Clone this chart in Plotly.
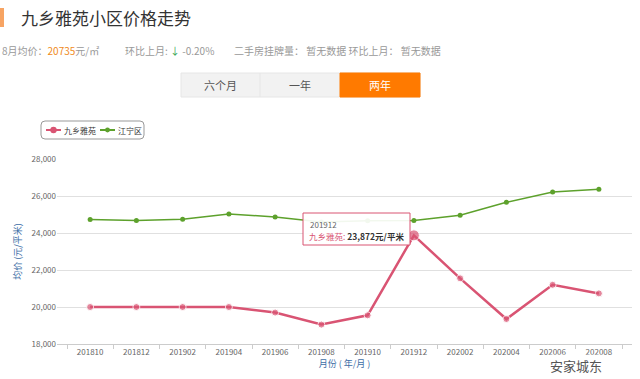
import plotly.graph_objects as go

months = ['201810', '201812', '201902', '201904', '201906', '201908',
          '201910', '201912', '202002', '202004', '202006', '202008']
jiuxiang = [20000, 20000, 20000, 20000, 19700, 19050, 19550, 23872, 21550, 19350, 21200, 20735]
jiangning = [24730, 24680, 24740, 25030, 24870, 24600, 24660, 24670, 24960, 25660, 26220, 26360]
series_names = ['九乡雅苑', '江宁区']
y_ticks = [18000, 20000, 22000, 24000, 26000, 28000]

W, H = 640, 379
L, R, T, B = 57, 8, 159, 35
PW, PH = W - L - R, H - T - B

def px(x):
    return (x - L) / PW

def py(y):
    return (H - B - y) / PH

RED = '#d95473'
GREEN = '#5da12c'
FONT = 'Noto Sans CJK SC'
colors = [RED, GREEN]

fig = go.Figure()
sizes = [7] * len(months)
sizes[months.index('201912')] = 11
fig.add_trace(go.Scatter(x=months, y=jiuxiang, name=series_names[0], mode='lines+markers',
                         line=dict(color=RED, width=2.5), marker=dict(color=RED, size=sizes)))
fig.add_trace(go.Scatter(x=months, y=jiangning, name=series_names[1], mode='lines+markers',
                         line=dict(color=GREEN, width=1.5), marker=dict(color=GREEN, size=5)))

shapes = []
annotations = []

# title bar
shapes.append(dict(type='rect', xref='paper', yref='paper', x0=px(0), x1=px(4), y0=py(27), y1=py(8),
                   fillcolor='#f7a463', line=dict(width=0)))
annotations.append(dict(xref='paper', yref='paper', x=px(19), y=py(17), xanchor='left', yanchor='middle',
                        text='九乡雅苑小区价格走势', showarrow=False,
                        font=dict(family=FONT, size=17, color='#333333')))
# info line
annotations.append(dict(xref='paper', yref='paper', x=px(0), y=py(50), xanchor='left', yanchor='middle',
                        showarrow=False,
                        text="<span style='color:#999'>8月均价：</span><span style='color:#f08a1c'>20735</span>"
                             "<span style='color:#999'>元/㎡</span>",
                        font=dict(family=FONT, size=10, color='#999999')))
annotations.append(dict(xref='paper', yref='paper', x=px(123), y=py(50), xanchor='left', yanchor='middle',
                        showarrow=False,
                        text="<span style='color:#999'>环比上月: </span><span style='color:#3aa655'>↓</span>"
                             "<span style='color:#999'> -0.20%</span>",
                        font=dict(family=FONT, size=10, color='#999999')))
annotations.append(dict(xref='paper', yref='paper', x=px(232), y=py(50), xanchor='left', yanchor='middle',
                        showarrow=False, text='二手房挂牌量： 暂无数据 环比上月： 暂无数据',
                        font=dict(family=FONT, size=10, color='#999999')))
# buttons
shapes.append(dict(type='rect', xref='paper', yref='paper', x0=px(181), x1=px(420), y0=py(97), y1=py(73),
                   fillcolor='#f2f2f2', line=dict(color='#e6e6e6', width=1)))
shapes.append(dict(type='line', xref='paper', yref='paper', x0=px(260), x1=px(260), y0=py(97), y1=py(73),
                   line=dict(color='#e6e6e6', width=1)))
shapes.append(dict(type='rect', xref='paper', yref='paper', x0=px(340), x1=px(420), y0=py(97), y1=py(73),
                   fillcolor='#ff7a00', line=dict(color='#ff7a00', width=1)))
for label, cx, col in [('六个月', 220, '#555555'), ('一年', 300, '#555555'), ('两年', 380, '#ffffff')]:
    annotations.append(dict(xref='paper', yref='paper', x=px(cx), y=py(85), xanchor='center', yanchor='middle',
                            showarrow=False, text=label, font=dict(family=FONT, size=11, color=col)))

# legend (compact, rounded box)
def rounded_rect(x0, y0, x1, y1, r):
    X = lambda v: px(v)
    Y = lambda v: py(v)
    return (f"M {X(x0 + r)} {Y(y0)} L {X(x1 - r)} {Y(y0)} Q {X(x1)} {Y(y0)} {X(x1)} {Y(y0 + r)} "
            f"L {X(x1)} {Y(y1 - r)} Q {X(x1)} {Y(y1)} {X(x1 - r)} {Y(y1)} "
            f"L {X(x0 + r)} {Y(y1)} Q {X(x0)} {Y(y1)} {X(x0)} {Y(y1 - r)} "
            f"L {X(x0)} {Y(y0 + r)} Q {X(x0)} {Y(y0)} {X(x0 + r)} {Y(y0)} Z")

shapes.append(dict(type='path', xref='paper', yref='paper', path=rounded_rect(41, 121, 144, 139, 4),
                   fillcolor='white', line=dict(color='#999999', width=1)))
leg_x = [46, 100]
for name, col, lx in zip(series_names, colors, leg_x):
    shapes.append(dict(type='line', xref='paper', yref='paper', x0=px(lx), x1=px(lx + 15), y0=py(130), y1=py(130),
                       line=dict(color=col, width=2)))
    r = 3.2 if col == RED else 2.4
    shapes.append(dict(type='circle', xref='paper', yref='paper', x0=px(lx + 7.5 - r), x1=px(lx + 7.5 + r),
                       y0=py(130 + r), y1=py(130 - r), fillcolor=col, line=dict(color=col, width=0)))
    annotations.append(dict(xref='paper', yref='paper', x=px(lx + 16), y=py(130), xanchor='left', yanchor='middle',
                            showarrow=False, text=name, font=dict(family=FONT, size=8, color='#333333')))

# tooltip
shapes.append(dict(type='rect', xref='paper', yref='paper', x0=px(303), x1=px(410), y0=py(245), y1=py(213),
                   fillcolor='rgba(255,255,255,0.92)', line=dict(color=RED, width=1)))
annotations.append(dict(xref='paper', yref='paper', x=px(308), y=py(224), xanchor='left', yanchor='middle',
                        showarrow=False, text='201912', font=dict(family=FONT, size=8, color='#666666')))
annotations.append(dict(xref='paper', yref='paper', x=px(307), y=py(236), xanchor='left', yanchor='middle',
                        showarrow=False,
                        text="<span style='color:%s'>九乡雅苑: </span><b>23,872元/平米</b>" % RED,
                        font=dict(family=FONT, size=8.5, color='#333333')))
# watermark
annotations.append(dict(xref='paper', yref='paper', x=px(548), y=py(365), xanchor='left', yanchor='middle',
                        showarrow=False, text='安家城东', bgcolor='rgba(255,255,255,0.6)',
                        font=dict(family=FONT, size=13, color='#555555')))

fig.update_layout(
    width=W, height=H,
    margin=dict(l=L, r=R, t=T, b=B),
    paper_bgcolor='white', plot_bgcolor='white',
    font=dict(family=FONT, size=9, color='#666666'),
    hovermode=False,
    showlegend=False,
    xaxis=dict(type='category', showgrid=False, showline=True, linecolor='#cccccc',
               ticks='outside', tickson='boundaries', tickcolor='#cccccc', ticklen=4,
               tickfont=dict(size=8, color='#666666'),
               title=dict(text='月份 ( 年/月 )', font=dict(size=9, color='#3d6ea6'), standoff=4)),
    yaxis=dict(range=[18000, 28000], tickvals=y_ticks, tickformat=',', showgrid=True,
               gridcolor='#e0e0e0', zeroline=False, ticks='', tickfont=dict(size=8, color='#666666'),
               title=dict(text='均价 (元/平米)', font=dict(size=9, color='#3d6ea6'), standoff=8)),
    shapes=shapes, annotations=annotations,
)

fig.write_html('out.html')
